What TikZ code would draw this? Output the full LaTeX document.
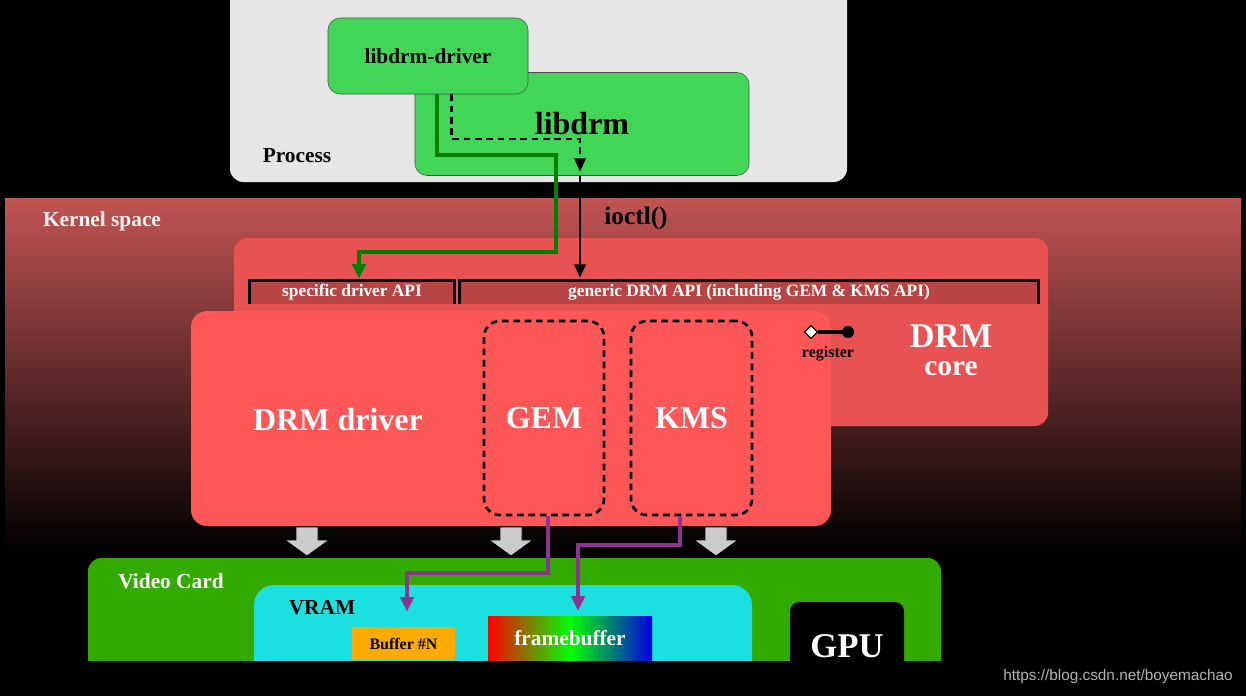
\documentclass[tikz,border=0pt]{standalone}
\usepackage{fontspec}
\setmainfont{Liberation Serif}
\setsansfont{Liberation Sans}
\usetikzlibrary{arrows.meta}
\usetikzlibrary{calc}
\usetikzlibrary{shapes.geometric}
\tikzset{>=latex}
\definecolor{procbg}{RGB}{230,230,230}
\definecolor{libgreen}{RGB}{66,214,88}
\definecolor{kerneltop}{RGB}{194,84,84}
\definecolor{corered}{RGB}{232,82,82}
\definecolor{apiband}{RGB}{184,68,68}
\definecolor{drvred}{RGB}{255,87,87}
\definecolor{wiregreen}{RGB}{0,128,0}
\definecolor{wirepurple}{RGB}{140,52,144}
\definecolor{cardgreen}{RGB}{51,170,0}
\definecolor{vramcyan}{RGB}{28,224,224}
\definecolor{bufforange}{RGB}{255,170,0}
\definecolor{hwgray}{RGB}{204,204,204}
\newcommand\fsz[1]{\fontsize{#1}{#1}\selectfont}
\tikzset{
    sz/.style 2 args={minimum width={#1*0.75pt}, minimum height={#2*0.75pt}, inner sep=0pt},
    libbox/.style={draw=black!70, fill=libgreen, rounded corners=9pt, font=\bfseries},
    apibox/.style={fill=apiband, text=white, font=\bfseries\fsz{13}},
    bracket/.style={line width=2.3pt},
    dashbox/.style={draw, line width=2pt, dash pattern=on 5pt off 3.5pt, rounded corners=12pt, text=white, font=\bfseries\fsz{24}},
    lbl/.style={font=\bfseries\fsz{16}, inner sep=0pt},
    drvwire/.style={wiregreen, line width=3pt, -{Triangle[length=11pt,width=10pt]}},
    apicall/.style={line width=1.9pt, -{Triangle[length=10pt,width=8.5pt]}},
    memwire/.style={wirepurple, line width=3pt, -{Triangle[length=11pt,width=10pt]}},
    hwarrow/.style={fill=hwgray, draw=black, line width=0.6pt},
    regend/.style={diamond, draw, fill=white, line width=0.8pt, inner sep=0pt, minimum width=10pt, minimum height=10pt},
}
\begin{document}
\begin{tikzpicture}[x=0.75pt, y=-0.75pt]
\useasboundingbox (0,0) rectangle (1246,696);
\fill[black] (0,0) rectangle (1246,696);

% user space
\node[sz={617}{212}, fill=procbg, rounded corners=10pt] (process) at (538.5,76) {};
\node[lbl] at (297,156) {Process};
\node[libbox, sz={334}{103}, font=\bfseries\fsz{24}] (libdrm) at (582,124) {libdrm};
\node[libbox, sz={200}{76}, font=\bfseries\fsz{16}] (libdrmdrv) at (428,56) {libdrm-driver};

% kernel space
\node[sz={1236}{352}, top color=kerneltop, bottom color=black] (kernel) at (623,374) {};
\node[lbl, text=white!95!red] at (102,221) {Kernel space};
\node[sz={814}{188}, fill=corered, rounded corners=10pt] (drmcore) at (641,332) {};
\node[apibox, sz={204}{23}] (specapi) at (352,292.5) {specific driver API};
\node[apibox, sz={578}{23}] (genapi) at (749,292.5) {generic DRM API (including GEM \& KMS API)};
\draw[bracket] (specapi.south west) |- (specapi.north east) -- (specapi.south east);
\draw[bracket] (genapi.south west) |- (genapi.north east) -- (genapi.south east);
\node[text=white, font=\bfseries\fsz{26}, inner sep=0pt] at (951,336) {DRM};
\node[text=white, font=\bfseries\fsz{22}, inner sep=0pt] at (951,369) {core};

\node[sz={640}{215}, fill=drvred, rounded corners=12pt] (drmdrv) at (511,418.5) {};
\node[text=white, font=\bfseries\fsz{24}, inner sep=0pt] at (338,420) {DRM driver};
\node[dashbox, sz={120}{194}] (gem) at (544,418) {GEM};
\node[dashbox, sz={121}{194}] (kms) at (691.5,418) {KMS};

\coordinate (regr) at (848,332);
\node[regend] (regl) at (811,332) {};
\draw[line width=2.3pt] (regl.east) -- (regr);
\fill (regr) circle (4.5pt);
\node[font=\bfseries\fsz{12}, inner sep=0pt] at (828,354) {register};

\foreach \ax in {307,511,716}
    \draw[hwarrow] (\ax-11,527) -- (\ax-11,540) -- (\ax-22,540) -- (\ax,556) -- (\ax+22,540) -- (\ax+11,540) -- (\ax+11,527) -- cycle;

% hardware
\begin{scope}
\clip (0,0) rectangle (1246,660);
\node[sz={853}{130}, fill=cardgreen, rounded corners=10pt] (videocard) at (514.5,623) {};
\node[sz={498}{110}, fill=vramcyan, rounded corners=15pt] (vram) at (503,640) {};
\node[sz={114}{88}, fill=black, rounded corners=7pt, text=white, font=\bfseries\fsz{26}] (gpu) at (847,646) {GPU};
\end{scope}
\node[lbl, text=white] at (171,581) {Video Card};
\node[lbl] at (322,608) {VRAM};
\node[sz={103}{33}, fill=bufforange, font=\bfseries\fsz{12}] (buffer) at (403.5,643.5) {Buffer \#N};
\node[sz={164}{44}, left color=red, right color=blue!90!black, middle color=green, text=white, font=\bfseries\fsz{16}] (fb) at (570,638) {framebuffer};

% connectors
\coordinate (ioctlx) at (580,0);
\draw[drvwire] ($(libdrmdrv.south west)+(109,0)$) |- (556,155) -- (556,252) -| ($(specapi.north)+(7,-2)$);
\draw[apicall, dash pattern=on 5pt off 3.5pt] ($(libdrmdrv.south west)+(124,0)$) |- (580,139) -- ($(libdrm.south -| ioctlx)+(0,-4)$);
\draw[apicall] (libdrm.south -| ioctlx) -- ($(genapi.north -| ioctlx)+(0,-3)$);
\node[font=\bfseries\fsz{19}, inner sep=0pt] at (636,218) {ioctl()};
\draw[memwire] ($(gem.south)+(4,0)$) |- (407,573) -- ($(buffer.north)+(3.5,-15)$);
\draw[memwire] ($(kms.south)+(-12,0)$) |- (578,545) -- ($(fb.north)+(8,-5)$);

\node[font=\sffamily\fsz{11.5}, text=black!30, inner sep=0pt] at (1118,677) {https://blog.csdn.net/boyemachao};
\end{tikzpicture}
\end{document}
